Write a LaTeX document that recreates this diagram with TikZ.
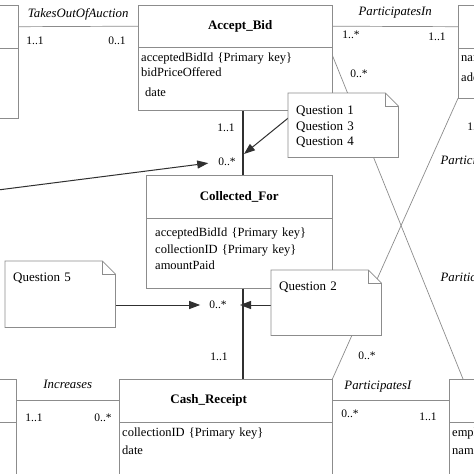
\documentclass[tikz,border=0pt]{standalone}
\usepackage{fontspec}
\setmainfont{Liberation Serif}
\usetikzlibrary{arrows.meta,calc}

\definecolor{linegray}{HTML}{8C8C8C}
\definecolor{darkline}{HTML}{303030}

\pgfdeclarelayer{notes}
\pgfdeclarelayer{notetext}
\pgfsetlayers{main,notes,notetext}

\begin{document}
\begin{tikzpicture}[
  x=1pt, y=-1pt,
  title/.style={rectangle, draw=linegray, fill=white, anchor=north west, minimum height=43pt, inner sep=0pt, font=\fontsize{13}{15}\selectfont\bfseries},
  attrs/.style={rectangle, draw=linegray, anchor=north west, align=left, inner xsep=3pt, inner ysep=5pt, text height=9pt, font=\fontsize{12.5}{16.5}\selectfont},
  assoc/.style={draw=linegray, line width=0.7pt},
  link/.style={draw=darkline, line width=1.8pt},
  pointer/.style={draw=darkline, line width=1pt, -{Triangle[length=11pt,width=8pt]}},
  role/.style={font=\itshape\fontsize{12.8}{14}\selectfont},
  mult/.style={font=\fontsize{11.5}{13}\selectfont, inner sep=1pt},
  note/.style={rectangle, anchor=north west, align=left, minimum width=110pt, inner xsep=8pt, inner ysep=8pt, text width=94pt, text height=12.5pt, font=\fontsize{13}{15.5}\selectfont},
  notebox/.style={draw=linegray, line width=0.7pt, fill=white}
]
\useasboundingbox (0,0) rectangle (474,474);
\clip (0,0) rectangle (474,474);
\fill[white] (0,0) rectangle (474,474);

% Classes
\node[title, minimum width=118pt] (tlTitle) at (-100,5) {};
\node[attrs, minimum width=118pt, text width=112pt, text depth=51pt] (tlAttrs) at (tlTitle.south west) {};

\node[title, minimum width=194pt, minimum height=42pt] (abTitle) at (138,5) {\hspace*{10pt}Accept\_Bid};
\node[attrs, minimum width=194pt, text width=188pt, text depth=44pt] (abAttrs) at (abTitle.south west) {acceptedBidId \{Primary key\}\\[-1.5pt]bidPriceOffered\\[3.5pt]\hspace*{4pt}date};

\node[title, minimum width=150pt] (trTitle) at (458,5) {};
\node[attrs, minimum width=150pt, text width=144pt, text height=7.5pt, text depth=32pt] (trAttrs) at (trTitle.south west) {name\\[4pt]address};

\node[title, minimum width=186pt] (cfTitle) at (146,175) {Collected\_For};
\node[attrs, minimum width=186pt, inner xsep=9pt, text width=168pt, text height=13pt, text depth=47pt] (cfAttrs) at (cfTitle.south west) {acceptedBidId \{Primary key\}\\collectionID \{Primary key\}\\amountPaid};

\node[title, minimum width=116pt] (blTitle) at (-100,379) {};
\node[attrs, minimum width=116pt, text width=110pt, text depth=100pt] (blAttrs) at (blTitle.south west) {};

\node[title, minimum width=213pt] (crTitle) at (119,379) {Cash\_Receipt\hspace*{34pt}};
\node[attrs, minimum width=213pt, text width=207pt, text depth=100pt] (crAttrs) at (crTitle.south west) {collectionID \{Primary key\}\\[1.5pt]date};

\node[title, minimum width=150pt] (brTitle) at (449,379) {};
\node[attrs, minimum width=150pt, text width=144pt, text depth=100pt] (brAttrs) at (brTitle.south west) {employeeID\\[1.5pt]name};

% Associations
\draw[assoc] (tlTitle.east) -- (abTitle.west) node[role, midway, above=3pt] {TakesOutOfAuction};
\draw[assoc] (abTitle.east) -- (trTitle.west) node[role, midway, above=5pt] {ParticipatesIn};
\draw[assoc] (blTitle.east) -- (crTitle.west) node[role, midway, above=8pt] {Increases};
\draw[assoc] (crTitle.east) -- (brTitle.west) node[role, pos=0.39, above=5pt] {ParticipatesI};

\draw[assoc] ([yshift=-8pt]abAttrs.north east) -- ($(brTitle.north west)+(14,0)$);
\draw[assoc] (trAttrs.south west) -- (crTitle.north east);
\node[role, anchor=west] at (437,162) {Participates};
\node[role, anchor=west] at (437,279) {Pariticipates};

\draw[link] ([xshift=4pt]cfTitle.north) -- ([xshift=4pt]cfTitle.north |- abAttrs.south);
\draw[link] ([xshift=4pt]cfAttrs.south) -- ([xshift=4pt]cfAttrs.south |- crTitle.north);

% Multiplicities
\node[mult] at (35,41) {1..1};
\node[mult] at (117,41) {0..1};
\node[mult] at (351,35) {1..*};
\node[mult] at (437,37) {1..1};
\node[mult] at (359,74) {0..*};
\node[mult] at (476,127) {1..1};
\node[mult] at (226,128) {1..1};
\node[mult] (mAbColl) at (227,162) {0..*};
\node[mult] (mCollCash) at (218,305) {0..*};
\node[mult] at (219,357) {1..1};
\node[mult] at (367,356) {0..*};
\node[mult] at (34,418) {1..1};
\node[mult] at (103,418) {0..*};
\node[mult] at (350,414) {0..*};
\node[mult] at (428,417) {1..1};

% Notes
\begin{pgfonlayer}{notetext}
\node[note, minimum height=64pt] (q1) at (288,93) {Question 1\\Question 3\\Question 4};
\node[note, minimum height=66pt, text depth=37.5pt] (q5) at (5,261) {Question 5};
\node[note, minimum height=65pt, inner xsep=7pt, text depth=36.5pt] (q2) at (271,270) {Question 2};
\end{pgfonlayer}
\begin{pgfonlayer}{notes}
\foreach \q in {q1,q5,q2} {
  \filldraw[notebox] (\q.north west) -- ($(\q.north east)+(-13,0)$) -- ($(\q.north east)+(0,13)$) -- (\q.south east) -- (\q.south west) -- cycle;
  \draw[notebox, fill=none] ($(\q.north east)+(-13,0)$) |- ($(\q.north east)+(0,13)$);
}
\end{pgfonlayer}

% Pointers
\coordinate (offLeft) at (-10,191);
\coordinate (q1Tip) at (244,154);
\coordinate (q2Tip) at (240,305);
\draw[pointer, shorten >=9pt] (offLeft) -- (mAbColl.west);
\draw[pointer] ([yshift=7pt]q1.west) -- (q1Tip);
\draw[pointer, shorten >=8pt] ([xshift=-5pt]q5.east |- mCollCash.west) -- (mCollCash.west);
\draw[pointer] (q2.west |- mCollCash.west) -- (q2Tip);

\end{tikzpicture}
\end{document}
